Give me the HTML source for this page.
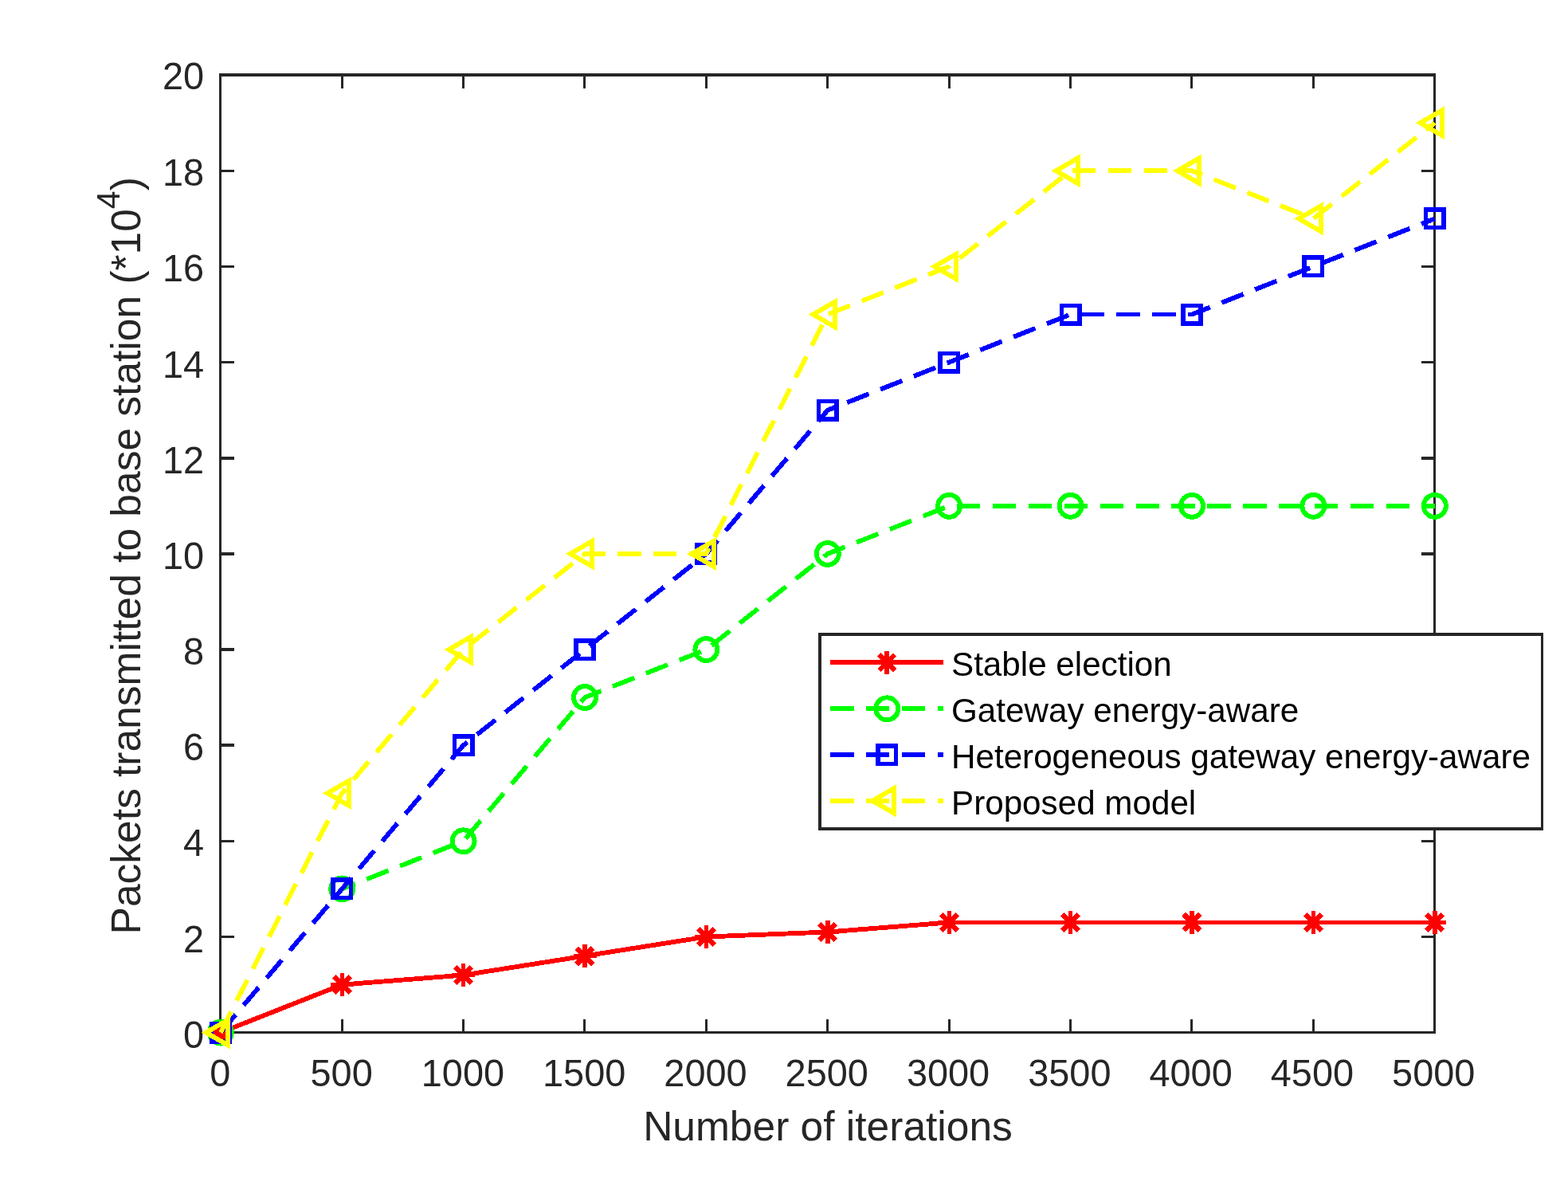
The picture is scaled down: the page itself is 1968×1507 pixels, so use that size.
<!DOCTYPE html>
<html lang="en"><head><meta charset="utf-8">
<style>html,body{margin:0;padding:0;background:#fff}body{width:1968px;height:1507px;overflow:hidden}svg{display:block}text{font-family:'Liberation Sans', sans-serif}</style></head><body>
<svg width="1968" height="1507" viewBox="0 0 1968 1507">
<rect width="1968" height="1507" fill="#fff"/>
<g shape-rendering="crispEdges" fill="#262626">
<rect x="275" y="92" width="1527" height="4"/>
<rect x="275" y="1294" width="1527" height="3"/>
<rect x="275" y="92" width="3" height="1205"/>
<rect x="1799" y="92" width="3" height="1205"/>
<path d="M428 1279h3V1294h-3zM428 96h3V111h-3zM580 1279h3V1294h-3zM580 96h3V111h-3zM732 1279h3V1294h-3zM732 96h3V111h-3zM885 1279h3V1294h-3zM885 96h3V111h-3zM1037 1279h3V1294h-3zM1037 96h3V111h-3zM1190 1279h3V1294h-3zM1190 96h3V111h-3zM1342 1279h3V1294h-3zM1342 96h3V111h-3zM1494 1279h3V1294h-3zM1494 96h3V111h-3zM1647 1279h3V1294h-3zM1647 96h3V111h-3zM278 1174H294v3H278zM1784 1174H1799v3H1784zM278 1054H294v3H278zM1784 1054H1799v3H1784zM278 933H294v4H278zM1784 933H1799v4H1784zM278 813H294v4H278zM1784 813H1799v4H1784zM278 693H294v4H278zM1784 693H1799v4H1784zM278 573H294v4H278zM1784 573H1799v4H1784zM278 453H294v3H278zM1784 453H1799v3H1784zM278 333H294v3H278zM1784 333H1799v3H1784zM278 213H294v3H278zM1784 213H1799v3H1784z"/>
</g>
<g fill="#262626" font-size="46.9">
<text transform="translate(276.3 1362.9) scale(1 1.037)" text-anchor="middle">0</text>
<text transform="translate(428.59 1362.9) scale(1 1.037)" text-anchor="middle">500</text>
<text transform="translate(580.88 1362.9) scale(1 1.037)" text-anchor="middle">1000</text>
<text transform="translate(733.17 1362.9) scale(1 1.037)" text-anchor="middle">1500</text>
<text transform="translate(885.46 1362.9) scale(1 1.037)" text-anchor="middle">2000</text>
<text transform="translate(1037.75 1362.9) scale(1 1.037)" text-anchor="middle">2500</text>
<text transform="translate(1190.04 1362.9) scale(1 1.037)" text-anchor="middle">3000</text>
<text transform="translate(1342.33 1362.9) scale(1 1.037)" text-anchor="middle">3500</text>
<text transform="translate(1494.62 1362.9) scale(1 1.037)" text-anchor="middle">4000</text>
<text transform="translate(1646.91 1362.9) scale(1 1.037)" text-anchor="middle">4500</text>
<text transform="translate(1799.2 1362.9) scale(1 1.037)" text-anchor="middle">5000</text>
<text transform="translate(256.2 1314.65) scale(1 1.037)" text-anchor="end">0</text>
<text transform="translate(256.2 1194.5) scale(1 1.037)" text-anchor="end">2</text>
<text transform="translate(256.2 1074.35) scale(1 1.037)" text-anchor="end">4</text>
<text transform="translate(256.2 954.2) scale(1 1.037)" text-anchor="end">6</text>
<text transform="translate(256.2 834.05) scale(1 1.037)" text-anchor="end">8</text>
<text transform="translate(256.2 713.9) scale(1 1.037)" text-anchor="end">10</text>
<text transform="translate(256.2 593.75) scale(1 1.037)" text-anchor="end">12</text>
<text transform="translate(256.2 473.6) scale(1 1.037)" text-anchor="end">14</text>
<text transform="translate(256.2 353.45) scale(1 1.037)" text-anchor="end">16</text>
<text transform="translate(256.2 233.3) scale(1 1.037)" text-anchor="end">18</text>
<text transform="translate(256.2 112.45) scale(1 1.037)" text-anchor="end">20</text>
</g>
<text x="1039" y="1431.2" text-anchor="middle" font-size="51.5" fill="#262626">Number of iterations</text>
<text transform="translate(176 697.3) rotate(-90)" text-anchor="middle" font-size="51.5" fill="#262626">Packets transmitted to base station (*10<tspan dy="-26" font-size="41">4</tspan><tspan dy="26">)</tspan></text>
<g shape-rendering="crispEdges" fill="none" stroke-linecap="butt" stroke-linejoin="miter" stroke-miterlimit="10">
<g stroke="#f00">
<polyline points="276.8,1295.65 429.2,1235.58 581.6,1223.56 734,1199.53 886.4,1175.5 1038.8,1169.49 1191.2,1157.48 1343.6,1157.48 1496,1157.48 1648.4,1157.48 1800.8,1157.48" stroke-width="5.86" stroke-linejoin="round"/>
<path d="M262.3 1295.65h29M276.8 1281.15v29" stroke-width="5.4"/><path d="M266.55 1285.4l20.51 20.51M266.55 1305.9l20.51 -20.51" stroke-width="6.4"/>
<path d="M414.7 1235.58h29M429.2 1221.08v29" stroke-width="5.4"/><path d="M418.95 1225.32l20.51 20.51M418.95 1245.83l20.51 -20.51" stroke-width="6.4"/>
<path d="M567.1 1223.56h29M581.6 1209.06v29" stroke-width="5.4"/><path d="M571.35 1213.31l20.51 20.51M571.35 1233.81l20.51 -20.51" stroke-width="6.4"/>
<path d="M719.5 1199.53h29M734 1185.03v29" stroke-width="5.4"/><path d="M723.75 1189.28l20.51 20.51M723.75 1209.78l20.51 -20.51" stroke-width="6.4"/>
<path d="M871.9 1175.5h29M886.4 1161v29" stroke-width="5.4"/><path d="M876.15 1165.25l20.51 20.51M876.15 1185.75l20.51 -20.51" stroke-width="6.4"/>
<path d="M1024.3 1169.49h29M1038.8 1154.99v29" stroke-width="5.4"/><path d="M1028.55 1159.24l20.51 20.51M1028.55 1179.75l20.51 -20.51" stroke-width="6.4"/>
<path d="M1176.7 1157.48h29M1191.2 1142.98v29" stroke-width="5.4"/><path d="M1180.95 1147.22l20.51 20.51M1180.95 1167.73l20.51 -20.51" stroke-width="6.4"/>
<path d="M1329.1 1157.48h29M1343.6 1142.98v29" stroke-width="5.4"/><path d="M1333.35 1147.22l20.51 20.51M1333.35 1167.73l20.51 -20.51" stroke-width="6.4"/>
<path d="M1481.5 1157.48h29M1496 1142.98v29" stroke-width="5.4"/><path d="M1485.75 1147.22l20.51 20.51M1485.75 1167.73l20.51 -20.51" stroke-width="6.4"/>
<path d="M1633.9 1157.48h29M1648.4 1142.98v29" stroke-width="5.4"/><path d="M1638.15 1147.22l20.51 20.51M1638.15 1167.73l20.51 -20.51" stroke-width="6.4"/>
<path d="M1786.3 1157.48h29M1800.8 1142.98v29" stroke-width="5.4"/><path d="M1790.55 1147.22l20.51 20.51M1790.55 1167.73l20.51 -20.51" stroke-width="6.4"/>
</g>
<g stroke="#0f0">
<polyline points="276.8,1295.65 429.2,1115.43 581.6,1055.35 734,875.12 886.4,815.05 1038.8,694.9 1191.2,634.83 1343.6,634.83 1496,634.83 1648.4,634.83 1800.8,634.83" stroke-width="5.86" stroke-linejoin="round" stroke-dasharray="29.3 15.6" stroke-dashoffset="0"/>
<circle cx="276.8" cy="1295.65" r="13.95" stroke-width="6"/>
<circle cx="429.2" cy="1115.43" r="13.95" stroke-width="6"/>
<circle cx="581.6" cy="1055.35" r="13.95" stroke-width="6"/>
<circle cx="734" cy="875.12" r="13.95" stroke-width="6"/>
<circle cx="886.4" cy="815.05" r="13.95" stroke-width="6"/>
<circle cx="1038.8" cy="694.9" r="13.95" stroke-width="6"/>
<circle cx="1191.2" cy="634.83" r="13.95" stroke-width="6"/>
<circle cx="1343.6" cy="634.83" r="13.95" stroke-width="6"/>
<circle cx="1496" cy="634.83" r="13.95" stroke-width="6"/>
<circle cx="1648.4" cy="634.83" r="13.95" stroke-width="6"/>
<circle cx="1800.8" cy="634.83" r="13.95" stroke-width="6"/>
</g>
<g stroke="#00f">
<polyline points="276.8,1295.65 429.2,1115.43 581.6,935.2 734,815.05 886.4,694.9 1038.8,514.68 1191.2,454.6 1343.6,394.53 1496,394.53 1648.4,334.45 1800.8,274.38" stroke-width="5.86" stroke-linejoin="round" stroke-dasharray="29.3 15.6" stroke-dashoffset="0"/>
<rect x="265.57" y="1284.43" width="22.45" height="22.45" stroke-width="5.5"/>
<rect x="417.98" y="1104.2" width="22.45" height="22.45" stroke-width="5.5"/>
<rect x="570.38" y="923.98" width="22.45" height="22.45" stroke-width="5.5"/>
<rect x="722.77" y="803.83" width="22.45" height="22.45" stroke-width="5.5"/>
<rect x="875.18" y="683.68" width="22.45" height="22.45" stroke-width="5.5"/>
<rect x="1027.58" y="503.45" width="22.45" height="22.45" stroke-width="5.5"/>
<rect x="1179.98" y="443.38" width="22.45" height="22.45" stroke-width="5.5"/>
<rect x="1332.38" y="383.3" width="22.45" height="22.45" stroke-width="5.5"/>
<rect x="1484.78" y="383.3" width="22.45" height="22.45" stroke-width="5.5"/>
<rect x="1637.17" y="323.23" width="22.45" height="22.45" stroke-width="5.5"/>
<rect x="1789.58" y="263.15" width="22.45" height="22.45" stroke-width="5.5"/>
</g>
<g stroke="#ff0">
<polyline points="276.8,1295.65 429.2,995.28 581.6,815.05 734,694.9 886.4,694.9 1038.8,394.53 1191.2,334.45 1343.6,214.3 1496,214.3 1648.4,274.38 1800.8,154.23" stroke-width="5.86" stroke-linejoin="round" stroke-dasharray="29.3 15.6" stroke-dashoffset="0"/>
<path d="M258.6 1295.65L285.9 1279.89V1311.41Z" stroke-width="6"/>
<path d="M411 995.28L438.3 979.51V1011.04Z" stroke-width="6"/>
<path d="M563.4 815.05L590.7 799.29V830.81Z" stroke-width="6"/>
<path d="M715.8 694.9L743.1 679.14V710.66Z" stroke-width="6"/>
<path d="M868.2 694.9L895.5 679.14V710.66Z" stroke-width="6"/>
<path d="M1020.6 394.53L1047.9 378.76V410.29Z" stroke-width="6"/>
<path d="M1173 334.45L1200.3 318.69V350.21Z" stroke-width="6"/>
<path d="M1325.4 214.3L1352.7 198.54V230.06Z" stroke-width="6"/>
<path d="M1477.8 214.3L1505.1 198.54V230.06Z" stroke-width="6"/>
<path d="M1630.2 274.38L1657.5 258.61V290.14Z" stroke-width="6"/>
<path d="M1782.6 154.23L1809.9 138.46V169.99Z" stroke-width="6"/>
</g>
</g>
<g shape-rendering="crispEdges">
<rect x="1027" y="794" width="910" height="248" fill="#262626"/>
<rect x="1031" y="798" width="903" height="240" fill="#fff"/>
</g>
<g shape-rendering="crispEdges" fill="none" stroke-linecap="butt" stroke-linejoin="miter" stroke-miterlimit="10">
<g stroke="#f00">
<path d="M1042 828h142v6h-142z" fill="#f00" stroke="none"/>
<path d="M1113 816.8v29" stroke-width="6"/><path d="M1103.33 821.33l19.94 19.94M1103.33 841.27l19.94 -19.94" stroke-width="5.9"/>
</g>
<g stroke="#0f0">
<path d="M1042 886h30v6h-30zM1087 886h29v6h-29zM1132 886h29v6h-29zM1177 886h7v6h-7z" fill="#0f0" stroke="none"/>
<circle cx="1113.3" cy="889.3" r="13.95" stroke-width="6"/>
</g>
<g stroke="#00f">
<path d="M1042 944h30v6h-30zM1087 944h29v6h-29zM1132 944h29v6h-29zM1177 944h7v6h-7z" fill="#00f" stroke="none"/>
<rect x="1102.08" y="936.07" width="22.45" height="22.45" stroke-width="5.5"/>
</g>
<g stroke="#ff0">
<path d="M1042 1002h30v6h-30zM1087 1002h29v6h-29zM1132 1002h29v6h-29zM1177 1002h7v6h-7z" fill="#ff0" stroke="none"/>
<path d="M1095.1 1004.8L1122.4 989.04V1020.56Z" stroke-width="6"/>
</g>
</g>
<g fill="#000" font-size="42.2">
<text x="1194" y="848">Stable election</text>
<text x="1194" y="906">Gateway energy-aware</text>
<text x="1194" y="964">Heterogeneous gateway energy-aware</text>
<text x="1194" y="1022">Proposed model</text>
</g>
</svg></body></html>
